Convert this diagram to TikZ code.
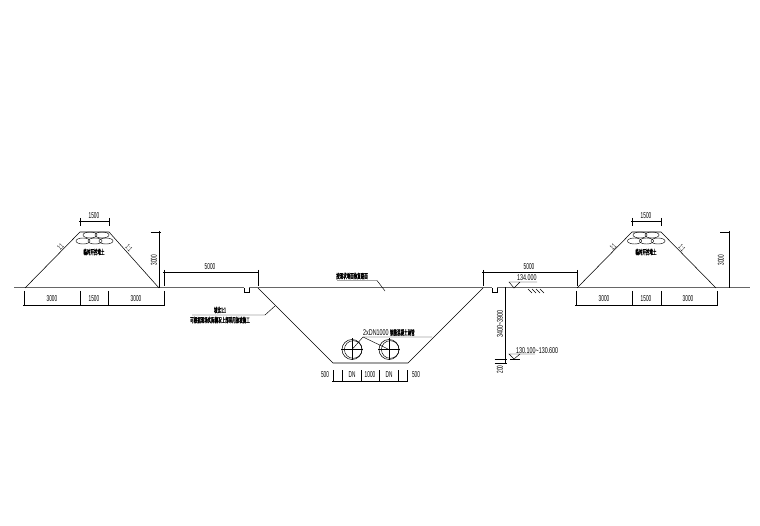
\documentclass[tikz,border=0pt]{standalone}
\usepackage{fontspec}
\setmainfont[FakeStretch=0.55]{Liberation Sans}
\newfontfamily\widefont[FakeStretch=0.64]{Liberation Sans}
\newfontfamily\cjk[FakeStretch=0.5,FakeBold=2]{Noto Sans CJK SC}
\begin{document}
\begin{tikzpicture}[x=1pt,y=-1pt,
  line/.style={draw=black,line width=0.45pt},
  ground/.style={draw=black!60,line width=1pt},
  dimtext/.style={inner sep=0pt,font=\fontsize{8.6}{9}\selectfont},
  lvltext/.style={inner sep=0pt,font=\widefont\fontsize{8.4}{9}\selectfont},
  slopetext/.style={inner sep=0pt,font=\fontsize{7.5}{8}\selectfont},
  cntext/.style={inner sep=0pt,font=\cjk\fontsize{7}{7}\selectfont},
  tick/.style={draw=black,line width=0.9pt}]
\useasboundingbox (0,0) rectangle (760,526);
\fill[white] (0,0) rectangle (760,526);
% ground
\draw[ground] (14,288) -- (244,288) (249,288) -- (492,288) (497,288) -- (750,288);
\draw[line] (244,288) -- (244,292) -- (249,292) -- (249,288);
\draw[line] (492,288) -- (492,292) -- (497,292) -- (497,288);
% mounds
\foreach \a/\b/\c/\d in {25/80/109/159, 577/632/661/716}{
  \draw[line,line width=0.55pt] (\a,288) -- (\b,232) -- (\c,232) -- (\d,288);
}
\foreach \cx/\cy in {90/235,102/235,83/241,95/241,106/241,640/235,652/235,634.5/241,646.5/241,658/241}{
  \draw[line] (\cx,\cy) ellipse [x radius=7,y radius=3];
}
\node[cntext] (moundL) at (94,252) {临时开挖堆土};
\node[cntext] (moundR) at (646,252) {临时开挖堆土};
\node[slopetext,rotate=45] (s1) at (60.5,247) {1:1};
\node[slopetext,rotate=-45] (s2) at (129,248) {1:1};
\node[slopetext,rotate=45] (s3) at (613,247) {1:1};
\node[slopetext,rotate=-45] (s4) at (682,248) {1:1};
% bottom dims of mounds
\foreach \a/\b/\c/\d in {24/80/108/164, 576/632/661/717}{
  \draw[line] (\a-1,305) -- (\d+1,305);
  \foreach \x in {\a,\b,\c,\d}{
    \draw[line] (\x,291) -- (\x,306);
    \draw[tick] (\x-.8,305) -- (\x+.8,305);
  }
}
\node[dimtext] (d1) at (52,299) {3000};
\node[dimtext] (d2) at (94,299) {1500};
\node[dimtext] (d3) at (136,299) {3000};
\node[dimtext] (d4) at (604,299) {3000};
\node[dimtext] (d5) at (646,299) {1500};
\node[dimtext] (d6) at (688,299) {3000};
% top dims
\foreach \a/\b in {80/109,632/661}{
  \draw[line] (\a-1,221) -- (\b+1,221);
  \foreach \x in {\a,\b}{
    \draw[line] (\x,218) -- (\x,226);
    \draw[tick] (\x-.8,221) -- (\x+.8,221);
  }
}
\node[dimtext] (t1) at (94,216) {1500};
\node[dimtext] (t2) at (646,216) {1500};
% height dims
\foreach \x in {159.5,729}{
  \draw[line] (\x-9,232) -- (\x+1,232);
  \draw[line] (\x,231) -- (\x,288);
  \draw[tick] (\x,231.2) -- (\x,232.8);
}
\node[dimtext,rotate=90] (h1) at (154,260) {3000};
\node[dimtext,rotate=90] (h2) at (721,260) {3000};
% 5000 dims
\foreach \a/\b in {164/258,483/577}{
  \draw[line] (\a-1,272) -- (\b+1,272);
  \foreach \x in {\a,\b}{
    \draw[line] (\x,270) -- (\x,286);
    \draw[tick] (\x-.8,272) -- (\x+.8,272);
  }
}
\node[dimtext] (w1) at (210,267) {5000};
\node[dimtext] (w2) at (529,267) {5000};
% trench
\draw[line,line width=0.55pt] (258,288) -- (333,363) -- (408,363) -- (483,288);
% left leader
\coordinate (la) at (275,306);
\coordinate (lb) at (265,315);
\coordinate (lc) at (192,315);
\draw[line] (la) -- (lb) -- (lc);
\node[cntext] (l1) at (220,310) {坡比1:1};
\node[cntext] (l2) at (220,320) {可根据现场实际情况上部采用放坡施工};
% top leader
\node[cntext] (top) at (352,276) {按现状地面恢复路面};
\coordinate (ta) at (337,280.5);
\coordinate (tb) at (377,280.5);
\coordinate (tc) at (385,291);
\draw[line] (ta) -- (tb) -- (tc);
% pipes
\foreach \cx/\n in {352/p1,389/p2}{
  \draw[line,line width=0.55pt] (\cx,349.5) circle (10);
  \draw[line] (\cx+1.2,349.5) circle (8.8);
  \draw[line] (\cx-11,349.5) -- (\cx+11,349.5) (\cx,338.5) -- (\cx,360.5);
  \coordinate (\n) at (\cx,349.5);
}
\coordinate (pa) at (363,337);
\coordinate (pb) at (432,337);
\draw[line] (p1) -- (pa) -- (pb);
\draw[line] (pa) -- (p2);
\node[lvltext,anchor=west] (pt) at (363,332.5) {2xDN1000 \cjk\fontsize{7}{7}\selectfont 钢筋混凝土涵管};
% trench bottom dims
\draw[line] (332,381) -- (408,381);
\foreach \x in {333,342,361,379,398,407}{
  \draw[line] (\x,370) -- (\x,382);
  \draw[tick] (\x-.8,381) -- (\x+.8,381);
}
\node[dimtext] (b1) at (325,375) {500};
\node[dimtext] (b2) at (352,375) {DN};
\node[dimtext] (b3) at (370,375) {1000};
\node[dimtext] (b4) at (389,375) {DN};
\node[dimtext] (b5) at (416,375) {500};
% right elevation marks
\draw[line] (537,282) -- (509,282) -- (514,288) -- (520,282);
\node[lvltext,anchor=west] (e1) at (517,278) {134.000};
\foreach \x in {528,532,536,540}{
  \draw[line] (\x,289) -- (\x+4,293);
}
\draw[line] (505.5,288) -- (505.5,364);
\draw[tick] (505.5,287.5) -- (505.5,289);
\node[lvltext,rotate=90] (v1) at (500,324) {3400\textasciitilde3900};
\draw[line] (494.5,359) -- (507,359);
\draw[line] (494.5,363) -- (507,363);
\node[dimtext,rotate=90] (v2) at (500,369.5) {200};
\draw[line] (535,354) -- (509,354) -- (514,359) -- (520,354);
\draw[line] (510,359) -- (520,359);
\node[lvltext,anchor=west] (e2) at (516,350.5) {130.100\textasciitilde130.600};
\end{tikzpicture}
\end{document}
